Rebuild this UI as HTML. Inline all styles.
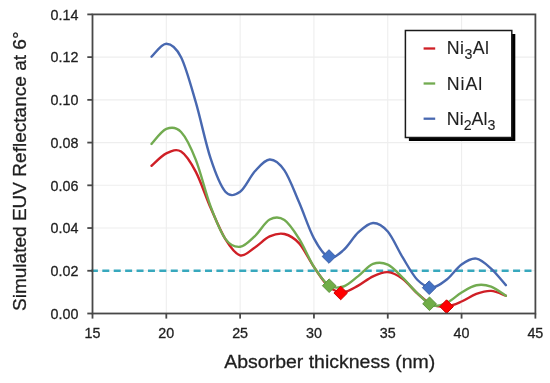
<!DOCTYPE html>
<html><head><meta charset="utf-8"><style>
html,body{margin:0;padding:0;background:#fff;}
svg{display:block;}
text{font-family:"Liberation Sans",sans-serif;fill:#1f1f1f;stroke:#1f1f1f;stroke-width:0.3px;}
.ax{stroke-width:0.3px;}
.tk{font-size:14.3px;}
.ax{font-size:18.8px;}
.ay{font-size:18.6px;}
.lg{font-size:17.8px;stroke-width:0.1px;}
.sub{font-size:14.2px;}
</style></head><body>
<svg width="550" height="383" viewBox="0 0 550 383">
<rect width="550" height="383" fill="#fff"/>
<line x1="166.31" y1="14.4" x2="166.31" y2="313.5" stroke="#eeeeee" stroke-width="1.1"/>
<line x1="240.13" y1="14.4" x2="240.13" y2="313.5" stroke="#eeeeee" stroke-width="1.1"/>
<line x1="313.94" y1="14.4" x2="313.94" y2="313.5" stroke="#eeeeee" stroke-width="1.1"/>
<line x1="387.76" y1="14.4" x2="387.76" y2="313.5" stroke="#eeeeee" stroke-width="1.1"/>
<line x1="461.57" y1="14.4" x2="461.57" y2="313.5" stroke="#eeeeee" stroke-width="1.1"/>
<line x1="92.5" y1="270.77" x2="535.4" y2="270.77" stroke="#eeeeee" stroke-width="1.1"/>
<line x1="92.5" y1="228.04" x2="535.4" y2="228.04" stroke="#eeeeee" stroke-width="1.1"/>
<line x1="92.5" y1="185.32" x2="535.4" y2="185.32" stroke="#eeeeee" stroke-width="1.1"/>
<line x1="92.5" y1="142.59" x2="535.4" y2="142.59" stroke="#eeeeee" stroke-width="1.1"/>
<line x1="92.5" y1="99.86" x2="535.4" y2="99.86" stroke="#eeeeee" stroke-width="1.1"/>
<line x1="92.5" y1="57.13" x2="535.4" y2="57.13" stroke="#eeeeee" stroke-width="1.1"/>
<line x1="90.9" y1="270.8" x2="531.6" y2="270.8" stroke="#37A8BD" stroke-width="2.5" stroke-dasharray="7 4.41"/>
<path d="M151.55,165.74 C154.01,163.69 161.39,155.76 166.31,153.40 C171.24,151.04 176.16,148.49 181.08,151.58 C186.00,154.67 190.92,162.57 195.84,171.93 C200.76,181.29 205.68,196.55 210.60,207.75 C215.52,218.95 220.45,231.20 225.37,239.13 C230.29,247.06 235.21,253.94 240.13,255.32 C245.05,256.69 249.97,250.54 254.89,247.39 C259.81,244.25 264.74,238.69 269.66,236.46 C274.58,234.23 279.50,232.88 284.42,234.03 C289.34,235.19 294.26,237.91 299.18,243.39 C304.10,248.87 309.02,259.74 313.94,266.93 C318.87,274.12 323.79,282.35 328.71,286.54 C333.63,290.72 338.55,292.18 343.47,292.04 C348.39,291.89 353.31,288.26 358.23,285.65 C363.15,283.03 368.08,278.60 373.00,276.34 C377.92,274.08 382.84,271.71 387.76,272.11 C392.68,272.50 397.60,275.17 402.52,278.71 C407.44,282.24 412.37,288.98 417.29,293.31 C422.21,297.65 427.13,302.52 432.05,304.72 C436.97,306.91 441.89,307.02 446.81,306.49 C451.73,305.95 456.65,303.61 461.57,301.52 C466.50,299.43 471.42,295.73 476.34,293.96 C481.26,292.19 486.18,290.61 491.10,290.90 C496.02,291.19 503.40,294.89 505.86,295.69" fill="none" stroke="#CF1F26" stroke-width="2.4" stroke-linejoin="round" stroke-linecap="round"/>
<path d="M151.55,143.89 C154.01,141.41 161.39,130.97 166.31,128.98 C171.24,126.99 176.16,126.81 181.08,131.96 C186.00,137.10 190.92,147.42 195.84,159.83 C200.76,172.25 205.68,193.25 210.60,206.42 C215.52,219.59 220.45,232.13 225.37,238.85 C230.29,245.58 235.21,247.23 240.13,246.76 C245.05,246.30 249.97,240.60 254.89,236.07 C259.81,231.53 264.74,222.23 269.66,219.54 C274.58,216.85 279.50,216.71 284.42,219.92 C289.34,223.14 294.26,231.02 299.18,238.84 C304.10,246.66 309.02,259.13 313.94,266.86 C318.87,274.59 323.79,281.95 328.71,285.22 C333.63,288.49 338.55,288.01 343.47,286.49 C348.39,284.97 353.31,279.85 358.23,276.10 C363.15,272.35 368.08,265.90 373.00,263.99 C377.92,262.09 382.84,262.42 387.76,264.67 C392.68,266.92 397.60,272.74 402.52,277.50 C407.44,282.25 412.37,288.57 417.29,293.20 C422.21,297.83 427.13,303.68 432.05,305.28 C436.97,306.88 441.89,304.94 446.81,302.80 C451.73,300.66 456.65,295.38 461.57,292.45 C466.50,289.51 471.42,286.18 476.34,285.21 C481.26,284.23 486.18,284.82 491.10,286.58 C496.02,288.33 503.40,294.22 505.86,295.75" fill="none" stroke="#72AB50" stroke-width="2.4" stroke-linejoin="round" stroke-linecap="round"/>
<path d="M151.55,56.65 C154.01,54.49 161.39,43.58 166.31,43.68 C171.24,43.77 176.16,47.42 181.08,57.21 C186.00,67.00 190.92,85.57 195.84,102.44 C200.76,119.32 205.68,143.58 210.60,158.46 C215.52,173.34 220.45,186.14 225.37,191.70 C230.29,197.26 235.21,195.21 240.13,191.81 C245.05,188.41 249.97,176.69 254.89,171.30 C259.81,165.91 264.74,159.62 269.66,159.47 C274.58,159.32 279.50,163.23 284.42,170.40 C289.34,177.58 294.26,191.22 299.18,202.54 C304.10,213.87 309.02,229.23 313.94,238.34 C318.87,247.46 323.79,255.26 328.71,257.24 C333.63,259.21 338.55,254.30 343.47,250.18 C348.39,246.06 353.31,237.03 358.23,232.49 C363.15,227.95 368.08,223.11 373.00,222.95 C377.92,222.79 382.84,225.83 387.76,231.53 C392.68,237.24 397.60,249.15 402.52,257.18 C407.44,265.21 412.37,274.69 417.29,279.73 C422.21,284.78 427.13,287.52 432.05,287.47 C436.97,287.42 441.89,283.28 446.81,279.44 C451.73,275.59 456.65,267.88 461.57,264.41 C466.50,260.94 471.42,257.92 476.34,258.61 C481.26,259.31 486.18,264.18 491.10,268.60 C496.02,273.02 503.40,282.38 505.86,285.13" fill="none" stroke="#4868B0" stroke-width="2.4" stroke-linejoin="round" stroke-linecap="round"/>
<path d="M329.00,249.70 L335.80,256.50 L329.00,263.30 L322.20,256.50 Z" fill="#4472C4" stroke="#3A5FA8" stroke-width="1.0"/>
<path d="M429.20,280.90 L436.00,287.70 L429.20,294.50 L422.40,287.70 Z" fill="#4472C4" stroke="#3A5FA8" stroke-width="1.0"/>
<path d="M329.20,278.90 L336.00,285.70 L329.20,292.50 L322.40,285.70 Z" fill="#70AD47" stroke="#5E9440" stroke-width="1.0"/>
<path d="M429.50,297.00 L436.30,303.80 L429.50,310.60 L422.70,303.80 Z" fill="#70AD47" stroke="#5E9440" stroke-width="1.0"/>
<path d="M340.70,286.20 L347.50,293.00 L340.70,299.80 L333.90,293.00 Z" fill="#FF0000" stroke="#D00000" stroke-width="1.0"/>
<path d="M446.60,299.80 L453.40,306.60 L446.60,313.40 L439.80,306.60 Z" fill="#FF0000" stroke="#D00000" stroke-width="1.0"/>
<rect x="92.5" y="14.4" width="442.9" height="299.1" fill="none" stroke="#484848" stroke-width="1.8"/>
<line x1="92.50" y1="313.5" x2="92.50" y2="318.6" stroke="#484848" stroke-width="1.8"/>
<line x1="166.31" y1="313.5" x2="166.31" y2="318.6" stroke="#484848" stroke-width="1.8"/>
<line x1="240.13" y1="313.5" x2="240.13" y2="318.6" stroke="#484848" stroke-width="1.8"/>
<line x1="313.94" y1="313.5" x2="313.94" y2="318.6" stroke="#484848" stroke-width="1.8"/>
<line x1="387.76" y1="313.5" x2="387.76" y2="318.6" stroke="#484848" stroke-width="1.8"/>
<line x1="461.57" y1="313.5" x2="461.57" y2="318.6" stroke="#484848" stroke-width="1.8"/>
<line x1="535.39" y1="313.5" x2="535.39" y2="318.6" stroke="#484848" stroke-width="1.8"/>
<line x1="87.3" y1="313.50" x2="92.5" y2="313.50" stroke="#484848" stroke-width="1.8"/>
<line x1="87.3" y1="270.77" x2="92.5" y2="270.77" stroke="#484848" stroke-width="1.8"/>
<line x1="87.3" y1="228.04" x2="92.5" y2="228.04" stroke="#484848" stroke-width="1.8"/>
<line x1="87.3" y1="185.32" x2="92.5" y2="185.32" stroke="#484848" stroke-width="1.8"/>
<line x1="87.3" y1="142.59" x2="92.5" y2="142.59" stroke="#484848" stroke-width="1.8"/>
<line x1="87.3" y1="99.86" x2="92.5" y2="99.86" stroke="#484848" stroke-width="1.8"/>
<line x1="87.3" y1="57.13" x2="92.5" y2="57.13" stroke="#484848" stroke-width="1.8"/>
<line x1="87.3" y1="14.40" x2="92.5" y2="14.40" stroke="#484848" stroke-width="1.8"/>
<text x="78.4" y="318.80" text-anchor="end" class="tk">0.00</text>
<text x="78.4" y="276.07" text-anchor="end" class="tk">0.02</text>
<text x="78.4" y="233.34" text-anchor="end" class="tk">0.04</text>
<text x="78.4" y="190.62" text-anchor="end" class="tk">0.06</text>
<text x="78.4" y="147.89" text-anchor="end" class="tk">0.08</text>
<text x="78.4" y="105.16" text-anchor="end" class="tk">0.10</text>
<text x="78.4" y="62.43" text-anchor="end" class="tk">0.12</text>
<text x="78.4" y="19.70" text-anchor="end" class="tk">0.14</text>
<text x="92.50" y="338" text-anchor="middle" class="tk">15</text>
<text x="166.31" y="338" text-anchor="middle" class="tk">20</text>
<text x="240.13" y="338" text-anchor="middle" class="tk">25</text>
<text x="313.94" y="338" text-anchor="middle" class="tk">30</text>
<text x="387.76" y="338" text-anchor="middle" class="tk">35</text>
<text x="461.57" y="338" text-anchor="middle" class="tk">40</text>
<text x="535.39" y="338" text-anchor="middle" class="tk">45</text>
<text x="224.3" y="367.6" class="ax" textLength="211" lengthAdjust="spacingAndGlyphs">Absorber thickness (nm)</text>
<text transform="translate(26.2,311) rotate(-90)" x="0" y="0" class="ax ay" textLength="279.5" lengthAdjust="spacingAndGlyphs">Simulated EUV Reflectance at 6°</text>
<rect x="408.9" y="34" width="106.4" height="107" fill="#000"/>
<rect x="405.4" y="30.5" width="106.4" height="107" fill="#fff" stroke="#1a1a1a" stroke-width="1.5"/>
<line x1="423.6" y1="48.5" x2="435.2" y2="48.5" stroke="#CF1F26" stroke-width="2.3"/>
<line x1="423.6" y1="83.5" x2="435.2" y2="83.5" stroke="#72AB50" stroke-width="2.3"/>
<line x1="423.6" y1="118.7" x2="435.2" y2="118.7" stroke="#4868B0" stroke-width="2.3"/>
<text x="446.8" y="54.3" class="lg" textLength="42.2" lengthAdjust="spacing">Ni<tspan class="sub" dy="4.9">3</tspan><tspan dy="-4.9">Al</tspan></text>
<text x="446.8" y="89.6" class="lg" textLength="35.4" lengthAdjust="spacing">NiAl</text>
<text x="446.8" y="124.8" class="lg" textLength="48.6" lengthAdjust="spacing">Ni<tspan class="sub" dy="4.9">2</tspan><tspan dy="-4.9">Al</tspan><tspan class="sub" dy="4.9">3</tspan></text>
</svg>
</body></html>
